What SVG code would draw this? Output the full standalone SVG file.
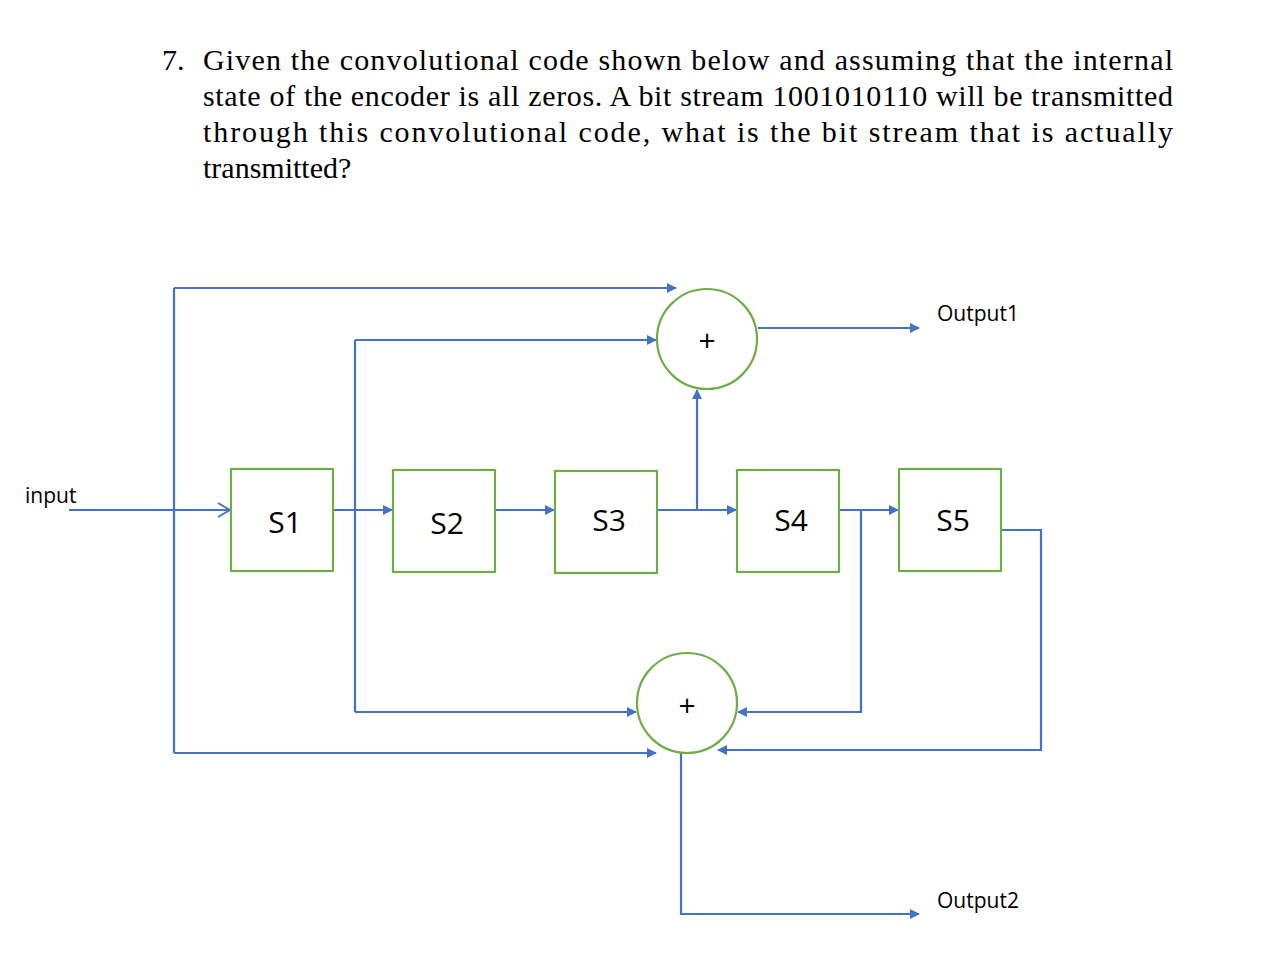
<svg xmlns="http://www.w3.org/2000/svg" width="1266" height="957" viewBox="0 0 1266 957">
<style>
.q{font-family:"Liberation Serif",serif;font-size:30px;fill:#000}
.b{fill:#fff;stroke:#70ad47;stroke-width:2.2}
.l{fill:none;stroke:#4472c4;stroke-width:2.2}
.t{font-family:"Open Sans","Liberation Sans",sans-serif;fill:#000}
</style>
<defs>
<marker id="a" markerWidth="10" markerHeight="10" refX="9" refY="5" orient="auto" markerUnits="userSpaceOnUse"><path d="M0,0L10,5L0,10Z" fill="#4472c4"/></marker>
<marker id="o" markerWidth="14" markerHeight="16" refX="13" refY="8" orient="auto" markerUnits="userSpaceOnUse"><path d="M1,1L13,8L1,15" fill="none" stroke="#4472c4" stroke-width="2"/></marker>
</defs>
<rect width="1266" height="957" fill="#fff"/>
<g id="question">
<text class="q" x="162" y="70">7.</text>
<text class="q" x="203" y="70" textLength="970" lengthAdjust="spacing">Given the convolutional code shown below and assuming that the internal</text>
<text class="q" x="203" y="106" textLength="970" lengthAdjust="spacing">state of the encoder is all zeros. A bit stream 1001010110 will be transmitted</text>
<text class="q" x="203" y="142" textLength="970" lengthAdjust="spacing">through this convolutional code, what is the bit stream that is actually</text>
<text class="q" x="203" y="178">transmitted?</text>
</g>
<g id="connectors">
<path class="l" d="M69,510H230" marker-end="url(#o)"/>
<path class="l" d="M174,288V753"/>
<path class="l" d="M174,288H676" marker-end="url(#a)"/>
<path class="l" d="M174,753H656" marker-end="url(#a)"/>
<path class="l" d="M355,340V712"/>
<path class="l" d="M355,340H656" marker-end="url(#a)"/>
<path class="l" d="M355,712H636" marker-end="url(#a)"/>
<path class="l" d="M333,510H392" marker-end="url(#a)"/>
<path class="l" d="M495,510H554" marker-end="url(#a)"/>
<path class="l" d="M657,510H736" marker-end="url(#a)"/>
<path class="l" d="M697,510V390" marker-end="url(#a)"/>
<path class="l" d="M839,510H898" marker-end="url(#a)"/>
<path class="l" d="M861,510V712H738" marker-end="url(#a)"/>
<path class="l" d="M1001,530H1041V750H718" marker-end="url(#a)"/>
<path class="l" d="M758,328H919" marker-end="url(#a)"/>
<path class="l" d="M681,753V914H919" marker-end="url(#a)"/>
</g>
<g id="S1"><rect class="b" x="231" y="469" width="102" height="102"/><text class="t" x="285" y="533" font-size="30" text-anchor="middle">S1</text></g>
<g id="S2"><rect class="b" x="393" y="470" width="102" height="102"/><text class="t" x="447" y="534" font-size="30" text-anchor="middle">S2</text></g>
<g id="S3"><rect class="b" x="555" y="471" width="102" height="102"/><text class="t" x="609" y="531" font-size="30" text-anchor="middle">S3</text></g>
<g id="S4"><rect class="b" x="737" y="470" width="102" height="102"/><text class="t" x="791" y="531" font-size="30" text-anchor="middle">S4</text></g>
<g id="S5"><rect class="b" x="899" y="469" width="102" height="102"/><text class="t" x="953" y="531" font-size="30" text-anchor="middle">S5</text></g>
<g id="sum1"><circle class="b" cx="707" cy="339" r="50"/><text class="t" x="707" y="351" font-size="30" text-anchor="middle">+</text></g>
<g id="sum2"><circle class="b" cx="687" cy="703" r="50"/><text class="t" x="687" y="716" font-size="30" text-anchor="middle">+</text></g>
<g id="labels">
<text class="t" x="25" y="503" font-size="21">input</text>
<text class="t" x="937" y="321" font-size="21">Output1</text>
<text class="t" x="937" y="908" font-size="21">Output2</text>
</g>
</svg>
